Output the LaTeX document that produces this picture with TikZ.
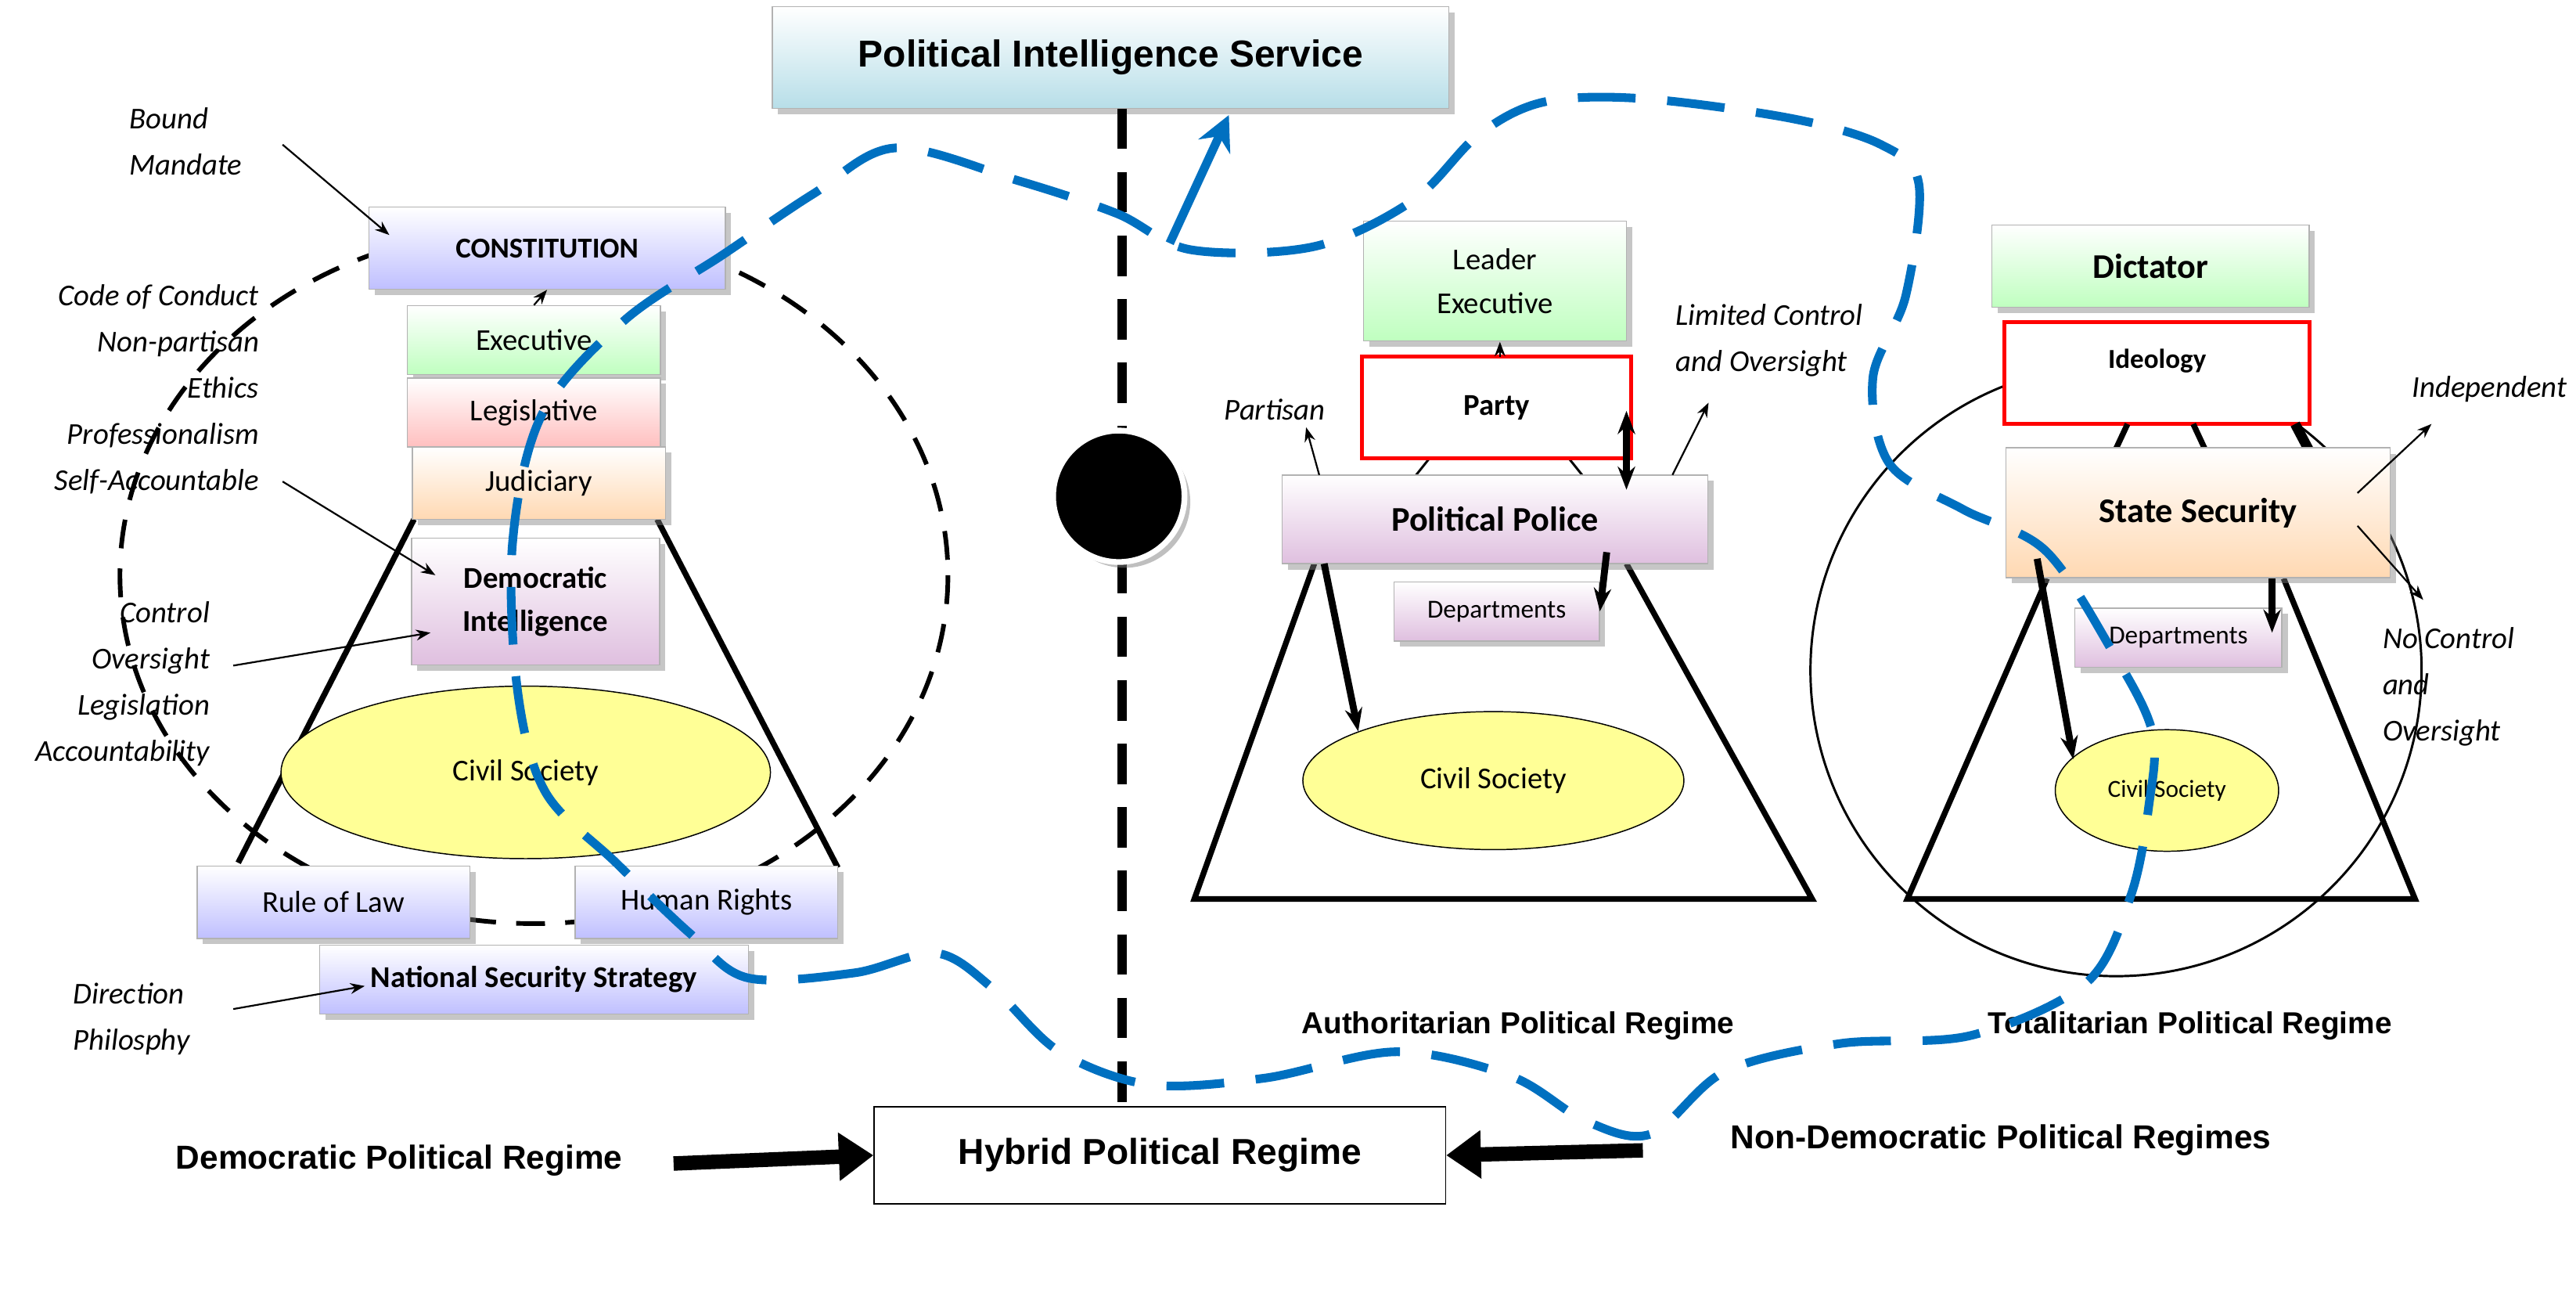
\documentclass[tikz,border=0pt]{standalone}
\usepackage{fontspec}
\setmainfont{Carlito}
\newfontfamily\arial{Liberation Sans}
\usetikzlibrary{arrows.meta, shapes.geometric, shadows, positioning}
\definecolor{pisblue}{RGB}{183,222,232}
\definecolor{loopblue}{RGB}{0,112,192}
\definecolor{csyellow}{RGB}{255,255,150}

\begin{document}
\begin{tikzpicture}[x=0.02cm, y=-0.02cm,
  box/.style={draw=gray!60, top color=white, bottom color=#1, drop shadow={opacity=.45, shadow xshift=2pt, shadow yshift=-2pt}, align=center, inner sep=1pt, font=\fontsize{10.5}{15}\selectfont},
  redbox/.style={draw=red, line width=1.4pt, fill=white, align=center, font=\fontsize{10.5}{13}\selectfont\bfseries},
  civil/.style={ellipse, draw, fill=csyellow, font=\fontsize{10.5}{13}\selectfont},
  note/.style={font=\fontsize{10.5}{16}\selectfont\itshape, inner sep=0pt},
  thin arrow/.style={-{Stealth[length=5pt]}, line width=.6pt},
  thick arrow/.style={-{Stealth[length=8pt]}, line width=2.4pt},
  regime/.style={font=\arial\fontsize{10.5}{13}\selectfont\bfseries},
  trap/.style={line width=2pt}
]
\useasboundingbox (0,0) rectangle (1568,789);

% left side
\draw[line width=1.6pt, dash pattern=on 10pt off 7pt] (325,350) ellipse [x radius=252, y radius=212];
\draw[trap] (252,316) -- (145,525);
\draw[trap] (400,316) -- (510,528);
\node[civil, minimum width=5.96cm, minimum height=2.1cm] (csl) at (320,470) {Civil Society};
\node[box=blue!25, minimum width=4.34cm, minimum height=1cm, font=\fontsize{10}{12}\selectfont\bfseries] (const) at (333,151) {CONSTITUTION};
\node[box=green!25, minimum width=3.08cm, minimum height=.84cm] (exe) at (325,207) {Executive};
\node[box=red!25, minimum width=3.08cm, minimum height=.84cm] (leg) at (325,251) {Legislative};
\node[box=orange!30, minimum width=3.08cm, minimum height=.88cm] (jud) at (328,294) {Judiciary};
\node[box=violet!25, minimum width=3.02cm, minimum height=1.54cm, font=\fontsize{10.5}{15}\selectfont\bfseries] (dint) at (326,366) {Democratic\\Intelligence};
\node[box=blue!25, minimum width=3.32cm, minimum height=.88cm] (law) at (203,549) {Rule of Law};
\node[box=blue!25, minimum width=3.2cm, minimum height=.88cm] (hr) at (430,549) {Human Rights};
\node[box=blue!25, minimum width=5.22cm, minimum height=.84cm, font=\fontsize{10.5}{13}\selectfont\bfseries] (nss) at (325,596) {National Security Strategy};
\draw[thin arrow] (exe.north) -- (const.south);

\node[note, align=left] (bound) at (113,86) {Bound\\Mandate};
\node[note, align=right, anchor=east] (conduct) at (158,237) {Code of Conduct\\Non-partisan\\Ethics\\Professionalism\\Self-Accountable};
\node[note, align=right, anchor=east] (control) at (128,416) {Control\\Oversight\\Legislation\\Accountability};
\node[note, align=left] (direction) at (80,620) {Direction\\Philosphy};
\coordinate (b1) at (172,88);
\coordinate (c1) at (172,293);
\coordinate (o1) at (142,405);
\coordinate (d1) at (142,614);
\draw[thin arrow] (b1) -- (237,143);
\draw[thin arrow] (c1) -- (265,350);
\draw[thin arrow] (o1) -- (262,385);
\draw[thin arrow] (d1) -- (222,600);

% middle
\node[box=pisblue, minimum width=8.24cm, minimum height=1.24cm, font=\arial\fontsize{13}{15}\selectfont\bfseries] (pis) at (676,35) {Political Intelligence Service};
\coordinate (dtop) at (683,66);
\coordinate (dbot) at (683,672);
\draw[line width=3pt, dash pattern=on 14pt off 8pt] (dtop) -- (dbot);
\node[circle, fill=black, draw=white, line width=2pt, minimum size=1.6cm, drop shadow={opacity=.5, shadow xshift=2pt, shadow yshift=-2pt}] (dot) at (681,302) {};
\node[draw, fill=white, minimum width=6.96cm, minimum height=1.18cm, font=\arial\fontsize{12.5}{15}\selectfont\bfseries] (hybrid) at (706,703) {Hybrid Political Regime};
\node[regime, font=\arial\fontsize{11.5}{13}\selectfont\bfseries] (dem) at (243,706) {Democratic Political Regime};
\node[regime, font=\arial\fontsize{11.5}{13}\selectfont\bfseries] (nondem) at (1218,694) {Non-Democratic Political Regimes};
\draw[-{Triangle[length=12pt, width=16pt]}, line width=5pt] (410,708) -- (hybrid.west);
\draw[-{Triangle[length=12pt, width=16pt]}, line width=5pt] (1000,700) -- (hybrid.east);

% authoritarian
\draw[trap] (800,343) -- (727,547) -- (1103,547) -- (990,343);
\node[civil, minimum width=4.64cm, minimum height=1.68cm] (csm) at (909,475) {Civil Society};
\node[box=green!25, minimum width=3.2cm, minimum height=1.46cm] (leader) at (910,171) {Leader\\Executive};
\draw[line width=.8pt] (870,279) -- (862,289) (955,279) -- (963,289);
\node[redbox, minimum width=3.28cm, minimum height=1.24cm] (party) at (911,248) {Party};
\node[box=violet!25, minimum width=5.18cm, minimum height=1.08cm, font=\fontsize{12}{14}\selectfont\bfseries] (police) at (910,316) {Political Police};
\node[box=violet!25, minimum width=2.5cm, minimum height=.72cm, font=\fontsize{9}{11}\selectfont] (depm) at (911,372) {Departments};
\draw[thin arrow] (913,217) -- (913,208);
\draw[thick arrow] (806,343) -- (csm.north west);
\draw[{Stealth[length=8pt]}-{Stealth[length=8pt]}, line width=2.4pt] (990,250) -- (990,298);
\draw[thick arrow] (978,336) -- (depm.east);
\node[note] (partisan) at (776,249) {Partisan};
\node[note, align=left] (limited) at (1077,207) {Limited Control\\and Oversight};
\draw[thin arrow] (803,289) -- (795,260);
\draw[thin arrow] (1018,289) -- (1040,245);
\node[regime] (auth) at (924,624) {Authoritarian Political Regime};

% totalitarian
\draw[line width=.8pt] (1288,408) circle [radius=186];
\draw[trap] (1246,352) -- (1161,547) -- (1470,547) -- (1390,352);
\node[civil, minimum width=2.72cm, minimum height=1.48cm, font=\fontsize{8.5}{10}\selectfont] (csr) at (1319,481) {Civil Society};
\node[box=green!25, minimum width=3.86cm, minimum height=1cm, font=\fontsize{12}{14}\selectfont\bfseries] (dict) at (1309,162) {Dictator};
\node[redbox, minimum width=3.72cm, minimum height=1.24cm, font=\fontsize{9.5}{11}\selectfont\bfseries] (ideo) at (1313,227) {\raisebox{10pt}{Ideology}};
\draw[trap] (1295,258) -- (1288,273) (1335,258) -- (1342,273);
\draw[line width=3.5pt] (1397,258) -- (1415,292);
\node[box=orange!30, minimum width=4.68cm, minimum height=1.58cm, font=\fontsize{12}{14}\selectfont\bfseries] (ss) at (1338,312) {State Security};
\node[box=violet!25, minimum width=2.52cm, minimum height=.72cm, font=\fontsize{9}{11}\selectfont] (depr) at (1326,388) {Departments};
\draw[thick arrow] (1240,340) -- (1262,462);
\draw[thick arrow] (1383,352) -- (1383,385);
\node[note, anchor=west] (indep) at (1468,237) {Independent};
\node[note, align=left, anchor=west] (nocontrol) at (1450,418) {No Control\\and\\Oversight};
\draw[thin arrow] (1435,300) -- (1480,258);
\draw[thin arrow] (1435,320) -- (1475,365);
\node[regime] (total) at (1333,624) {Totalitarian Political Regime};

% blue loop
\draw[loopblue, line width=3pt, dash pattern=on 20pt off 11pt] plot[smooth cycle, tension=.55] coordinates {
  (455,595) (520,592) (570,580) (605,602) (645,640) (700,660) (770,656) (850,640)
  (920,655) (965,682) (1005,690) (1050,652) (1120,635) (1200,630) (1270,598)
  (1297,545) (1308,490) (1310,445) (1285,395) (1245,335) (1195,310) (1150,282)
  (1140,230) (1160,180) (1168,112) (1145,88) (1090,72) (1000,60) (940,62) (900,82)
  (860,122) (800,150) (725,152) (680,130) (620,110) (545,90) (495,118) (440,155)
  (380,195) (330,252) (312,330) (315,420) (332,482) (375,525) (420,568)};
\coordinate (ptail) at (712,148);
\draw[loopblue, line width=3pt, -{Stealth[length=12pt, width=12pt]}] (ptail) -- (748,70);
\end{tikzpicture}
\end{document}
